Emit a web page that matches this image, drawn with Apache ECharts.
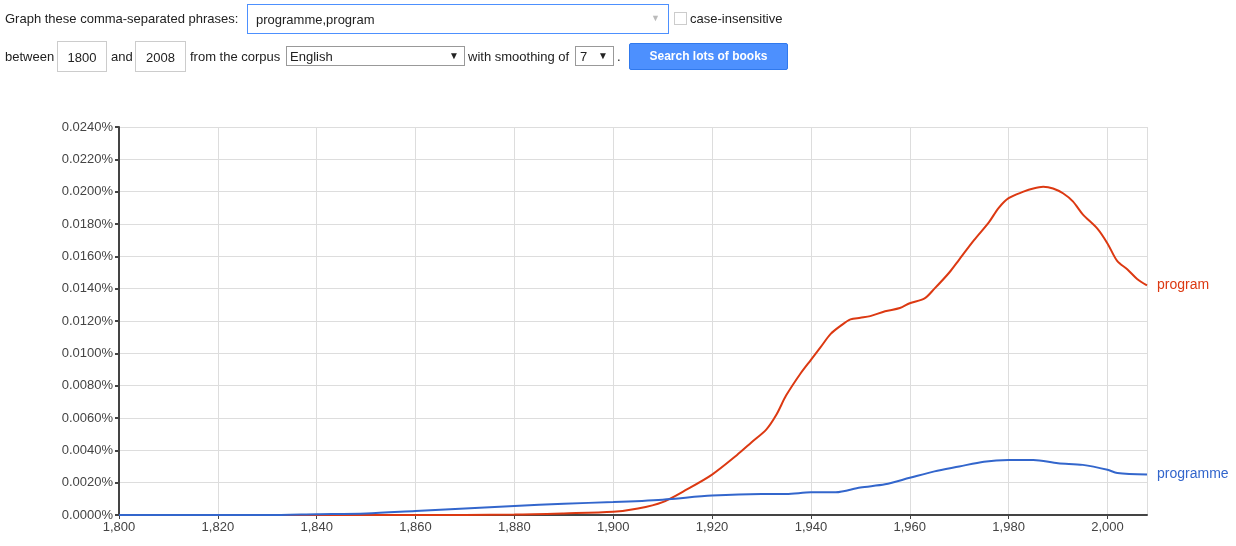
<!DOCTYPE html>
<html>
<head>
<meta charset="utf-8">
<title>Ngram</title>
<script src="https://cdn.jsdelivr.net/npm/echarts@6/dist/echarts.min.js"></script>
<style>
body{margin:0;font-family:Arial,"Liberation Sans",sans-serif;font-size:13px;color:#222;}
#main{position:absolute;left:0;top:0;width:1236px;height:546px;}
.ctl{position:absolute;z-index:2;}
.box{border:1px solid #ccc;background:#fff;box-sizing:border-box;}
</style>
</head>
<body>
<div id="main"></div>
<div class="ctl" style="left:5px;top:11px;">Graph these comma-separated phrases:</div>
<div class="ctl box" style="left:247px;top:4px;width:422px;height:30px;border-color:#4d90fe;padding:7px 8px;">programme,program<span style="position:absolute;right:8px;top:8px;color:#bbb;font-size:9px;">▼</span></div>
<div class="ctl box" style="left:674px;top:12px;width:13px;height:13px;"></div>
<div class="ctl" style="left:690px;top:11px;">case-insensitive</div>
<div class="ctl" style="left:5px;top:49px;">between</div>
<div class="ctl box" style="left:57px;top:41px;width:50px;height:31px;text-align:center;padding-top:8px;">1800</div>
<div class="ctl" style="left:111px;top:49px;">and</div>
<div class="ctl box" style="left:135px;top:41px;width:51px;height:31px;text-align:center;padding-top:8px;">2008</div>
<div class="ctl" style="left:190px;top:49px;">from the corpus</div>
<div class="ctl box" style="left:286px;top:46px;width:179px;height:20px;border-color:#999;padding:2px 3px;">English<span style="position:absolute;right:5px;top:3px;font-size:10px;">▼</span></div>
<div class="ctl" style="left:468px;top:49px;">with smoothing of</div>
<div class="ctl box" style="left:575px;top:46px;width:39px;height:20px;border-color:#999;padding:2px 4px;">7<span style="position:absolute;right:5px;top:3px;font-size:10px;">▼</span></div>
<div class="ctl" style="left:617px;top:49px;">.</div>
<div class="ctl" style="left:629px;top:43px;width:159px;height:27px;background:#4d90fe;border:1px solid #3079ed;box-sizing:border-box;border-radius:2px;color:#fff;font-weight:bold;font-size:12px;text-align:center;line-height:25px;">Search lots of books</div>
<script>
var programYears = [1800,1840,1860,1880,1890,1900,1905,1910,1915,1920,1925,1928,1931,1933,1935,1938,1940,1942,1944,1946,1948,1950,1952,1955,1958,1960,1963,1965,1968,1970,1973,1976,1978,1980,1983,1985,1987,1989,1991,1993,1995,1998,2000,2002,2004,2006,2008];
var programValues = [0,0,0,0.00003,0.0001,0.0002,0.0004,0.0008,0.0016,0.0025,0.0037,0.0045,0.0053,0.0062,0.0074,0.0088,0.0096,0.0104,0.0112,0.0117,0.0121,0.0122,0.0123,0.0126,0.0128,0.0131,0.0134,0.0140,0.0150,0.0158,0.0170,0.0181,0.0190,0.0196,0.0200,0.0202,0.0203,0.0202,0.0199,0.0194,0.0186,0.0177,0.0168,0.0157,0.0152,0.0146,0.0142];
var programmeYears = [1800,1830,1840,1850,1860,1870,1880,1890,1900,1910,1920,1930,1935,1940,1945,1950,1955,1960,1965,1970,1975,1980,1985,1990,1995,2000,2002,2008];
var programmeValues = [0,0,0.00005,0.0001,0.00025,0.0004,0.00055,0.0007,0.0008,0.00095,0.0012,0.0013,0.0013,0.0014,0.0014,0.0017,0.0019,0.0023,0.0027,0.0030,0.0033,0.0034,0.0034,0.0032,0.0031,0.0028,0.0026,0.0025];

function zip(xs, ys){ return xs.map(function(x,i){ return [x, ys[i]]; }); }

var chart = echarts.init(document.getElementById('main'));
chart.setOption({
  animation:false,
  grid:{left:119,right:89,top:127,bottom:31},
  xAxis:{type:'value',min:1800,max:2008,interval:20,
    axisLine:{lineStyle:{color:'#444',width:2}},
    axisTick:{show:true,length:4,lineStyle:{color:'#444'}},
    axisLabel:{color:'#444',fontSize:13,fontFamily:'Arial',margin:6,showMaxLabel:false},
    splitLine:{show:true,lineStyle:{color:'#ddd'}}},
  yAxis:{type:'value',min:0,max:0.024,interval:0.002,
    axisLine:{show:true,lineStyle:{color:'#444',width:2}},
    axisTick:{show:true,length:4,lineStyle:{color:'#444',width:2}},
    axisLabel:{color:'#444',fontSize:13,fontFamily:'Arial',margin:6,formatter:function(v){return v.toFixed(4)+'%';}},
    splitLine:{lineStyle:{color:'#ddd'}}},
  series:[
    {name:'program',type:'line',data:zip(programYears,programValues),smooth:0.3,showSymbol:false,
     lineStyle:{color:'#dc3912',width:2},itemStyle:{color:'#dc3912'},
     endLabel:{show:true,formatter:'program',color:'#dc3912',fontSize:14,fontFamily:'Arial',offset:[2,0]}},
    {name:'programme',type:'line',data:zip(programmeYears,programmeValues),smooth:0.3,showSymbol:false,
     lineStyle:{color:'#3366cc',width:2},itemStyle:{color:'#3366cc'},
     endLabel:{show:true,formatter:'programme',color:'#3366cc',fontSize:14,fontFamily:'Arial',offset:[2,0]}}
  ]
});
</script>
</body>
</html>
